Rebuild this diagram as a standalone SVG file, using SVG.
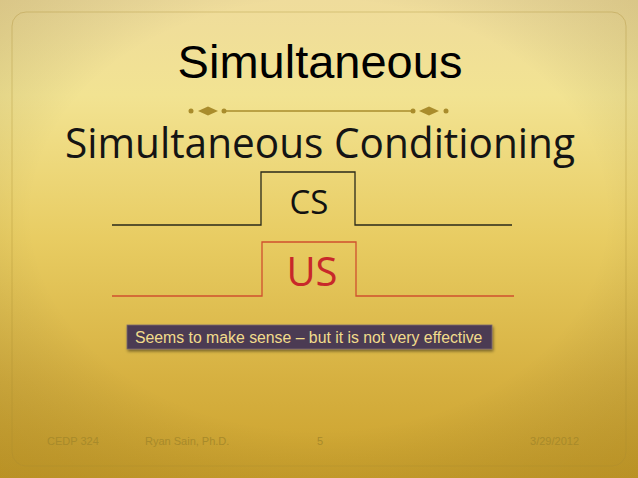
<svg xmlns="http://www.w3.org/2000/svg" width="638" height="478" viewBox="0 0 638 478">
  <defs>
    <linearGradient id="bg" x1="0" y1="0" x2="0" y2="1">
      <stop offset="0" stop-color="#efdc9c"/>
      <stop offset="0.2" stop-color="#f2e392"/>
      <stop offset="0.5" stop-color="#e8cc62"/>
      <stop offset="0.8" stop-color="#d6b040"/>
      <stop offset="1" stop-color="#cba12c"/>
    </linearGradient>
    <radialGradient id="vig" cx="0.5" cy="0.45" r="0.75">
      <stop offset="0.6" stop-color="#000" stop-opacity="0"/>
      <stop offset="1" stop-color="#6a4a00" stop-opacity="0.18"/>
    </radialGradient>
    <filter id="sh" x="-5%" y="-30%" width="110%" height="160%">
      <feDropShadow dx="1" dy="2" stdDeviation="1.5" flood-color="#000" flood-opacity="0.45"/>
    </filter>
    <style>
      .foot { font-family: "Liberation Sans", Arial, sans-serif; font-size: 11px; fill: #a88a2a; }
      .orn { fill: #a98c2c; }
    </style>
  </defs>
  <rect x="0" y="0" width="638" height="478" fill="url(#bg)"/>
  <rect x="0" y="0" width="638" height="478" fill="url(#vig)"/>
  <rect x="12" y="12" width="614" height="454" rx="14" fill="none" stroke="#a88a30" stroke-opacity="0.35" stroke-width="1"/>

  <g id="title">
    <text x="320" y="78" text-anchor="middle" font-family="'Liberation Sans', Arial, sans-serif" font-size="47" fill="#000">Simultaneous</text>
  </g>

  <g id="ornament">
    <circle class="orn" cx="191" cy="111" r="2.5"/>
    <path class="orn" d="M198 111 L208 106.5 L218 111 L208 115.5 Z"/>
    <circle class="orn" cx="224" cy="111" r="2.5"/>
    <line x1="224" y1="111" x2="413" y2="111" stroke="#a98c2c" stroke-width="1.3"/>
    <circle class="orn" cx="413" cy="111" r="2.5"/>
    <path class="orn" d="M419 111 L429 106.5 L439 111 L429 115.5 Z"/>
    <circle class="orn" cx="446" cy="111" r="2.5"/>
  </g>

  <g id="heading">
    <text x="65" y="158" font-family="'Open Sans', 'Noto Sans', sans-serif" font-size="42" fill="#141414" textLength="510" lengthAdjust="spacingAndGlyphs">Simultaneous Conditioning</text>
  </g>

  <g id="connectors">
    <polyline points="112,225 261,225 261,172 355,172 355,225 512,225" fill="none" stroke="#2a2a1a" stroke-width="1.3"/>
    <polyline points="112,296 262,296 262,242 356,242 356,296 514,296" fill="none" stroke="#d0502e" stroke-width="1.3"/>
  </g>

  <g id="cs">
    <text x="309" y="214" text-anchor="middle" font-family="'Open Sans', 'Noto Sans', sans-serif" font-size="33" fill="#111">CS</text>
  </g>
  <g id="us">
    <text x="312" y="286" text-anchor="middle" font-family="'Open Sans', 'Noto Sans', sans-serif" font-size="40" fill="#c8282a">US</text>
  </g>

  <g id="callout">
    <rect x="127" y="325" width="365" height="24" fill="#4c3b52" stroke="#7a6a70" stroke-width="0.8" filter="url(#sh)"/>
    <text x="135" y="343" font-family="'Liberation Sans', Arial, sans-serif" font-size="15.8" fill="#f1dc8c">Seems to make sense – but it is not very effective</text>
  </g>

  <g id="footer">
    <text class="foot" x="47" y="445">CEDP 324</text>
    <text class="foot" x="145" y="445">Ryan Sain, Ph.D.</text>
    <text class="foot" x="317" y="445">5</text>
    <text class="foot" x="579" y="445" text-anchor="end">3/29/2012</text>
  </g>
</svg>
